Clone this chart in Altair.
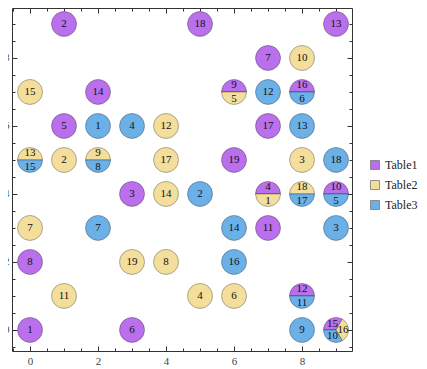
import math
import altair as alt
import pandas as pd

tables = ["Table1", "Table2", "Table3"]
colors = ["#BA70EC", "#F3DE9C", "#6CB0E8"]

# Table1 (purple)
t1_x = [1, 5, 9, 7, 2, 6, 8, 1, 7, 6, 3, 7, 9, 7, 0, 8, 0, 3, 9]
t1_y = [9, 9, 9, 8, 7, 7, 7, 6, 6, 5, 4, 4, 4, 3, 2, 1, 0, 0, 0]
t1_v = [2, 18, 13, 7, 14, 9, 16, 5, 17, 19, 3, 4, 10, 11, 8, 12, 1, 6, 15]

# Table2 (yellow)
t2_x = [8, 0, 6, 4, 0, 1, 2, 4, 8, 4, 7, 8, 0, 3, 4, 1, 5, 6, 9]
t2_y = [8, 7, 7, 6, 5, 5, 5, 5, 5, 4, 4, 4, 3, 2, 2, 1, 1, 1, 0]
t2_v = [10, 15, 5, 12, 13, 2, 9, 17, 3, 14, 1, 18, 7, 19, 8, 11, 4, 6, 16]

# Table3 (blue)
t3_x = [7, 8, 2, 3, 8, 0, 2, 9, 5, 8, 9, 2, 6, 9, 6, 8, 8, 9]
t3_y = [7, 7, 6, 6, 6, 5, 5, 5, 4, 4, 4, 3, 3, 3, 2, 1, 0, 0]
t3_v = [12, 6, 1, 4, 13, 15, 8, 18, 2, 17, 5, 7, 14, 3, 16, 11, 9, 10]

rows = []
for ti, (xs, ys, vs) in enumerate([(t1_x, t1_y, t1_v), (t2_x, t2_y, t2_v), (t3_x, t3_y, t3_v)]):
    for x, y, v in zip(xs, ys, vs):
        rows.append({"x": x, "y": y, "v": v, "table": tables[ti], "ti": ti})
df = pd.DataFrame(rows).sort_values(["x", "y", "ti"]).reset_index(drop=True)
df["n"] = df.groupby(["x", "y"])["ti"].transform("count")
df["i"] = df.groupby(["x", "y"]).cumcount()

LAB_R = 7.0
a0s, a1s, slots = [], [], []
slot_off = {}
for _, r in df.iterrows():
    step = 2 * math.pi / r["n"]
    a0 = 1.5 * math.pi + r["i"] * step
    a1 = a0 + step
    a0s.append(a0)
    a1s.append(a1)
    s = f"{r['n']}_{r['i']}"
    slots.append(s)
    if r["n"] == 1:
        slot_off[s] = (0.0, 0.0)
    else:
        mid = (a0 + a1) / 2
        slot_off[s] = (LAB_R * math.sin(mid), -LAB_R * math.cos(mid))
df["a0"] = a0s
df["a1"] = a1s
df["slot"] = slots

W, H = 340, 343
xdom = [-0.53, 9.47]
ydom = [-0.62, 9.47]
xticks = [k / 2 for k in range(-1, 19)]
yticks = [k / 2 for k in range(-1, 19)]

FONT = "Liberation Serif"
major_test = "datum.value % 2 === 0"
label_expr = f"{major_test} ? format(datum.value, 'd') : ''"

xaxis = alt.Axis(
    values=xticks, ticks=False, domain=False, grid=True,
    gridColor="#333333", gridWidth=1, gridOpacity=1,
    gridDash={"condition": {"test": major_test, "value": [5, H - 10]}, "value": [3, H - 6]},
    labelExpr=label_expr,
    labelFont=FONT, labelFontSize=11, labelColor="#444444", labelPadding=4,
    title=None, labelFlush=False,
)
yaxis = alt.Axis(
    values=yticks, ticks=False, domain=False, grid=True,
    gridColor="#333333", gridWidth=1, gridOpacity=1,
    gridDash={"condition": {"test": major_test, "value": [5, W - 10]}, "value": [3, W - 6]},
    labelExpr=label_expr,
    labelFont=FONT, labelFontSize=11, labelColor="#444444", labelPadding=3,
    title=None, labelFlush=False,
)

xenc = alt.X("x:Q", scale=alt.Scale(domain=xdom, nice=False, zero=False), axis=xaxis)
yenc = alt.Y("y:Q", scale=alt.Scale(domain=ydom, nice=False, zero=False), axis=yaxis)

base = alt.Chart(df)

arcs = base.mark_arc(radius=12.5, stroke="black", strokeOpacity=0.3, strokeWidth=1).encode(
    x=xenc,
    y=yenc,
    theta=alt.Theta("a0:Q", scale=None, stack=None),
    theta2="a1:Q",
    color=alt.Color(
        "table:N",
        scale=alt.Scale(domain=tables, range=colors),
        legend=alt.Legend(
            title=None, orient="none", legendX=357, legendY=151,
            symbolType="square", symbolSize=81, symbolStrokeColor="#777777",
            symbolStrokeWidth=0.8, symbolOpacity=1,
            labelFont=FONT, labelFontSize=12, labelColor="#222222",
            labelOffset=4, rowPadding=6, padding=0,
        ),
    ),
)

layers = [arcs]
for s, (dx, dy) in slot_off.items():
    layers.append(
        base.transform_filter(alt.datum.slot == s)
        .mark_text(font=FONT, fontSize=11, color="#111111", align="center",
                   baseline="middle", dx=dx, dy=dy)
        .encode(x=xenc, y=yenc, text="v:N")
    )

chart = (
    alt.layer(*layers)
    .properties(
        width=W, height=H,
        autosize=alt.AutoSizeParams(type="none"),
        padding={"left": 4, "top": 0, "right": 67, "bottom": 18},
    )
    .configure_view(stroke="#333333", strokeWidth=1)
)

chart.save("out.html", embed_options={"renderer": "svg", "actions": False})
